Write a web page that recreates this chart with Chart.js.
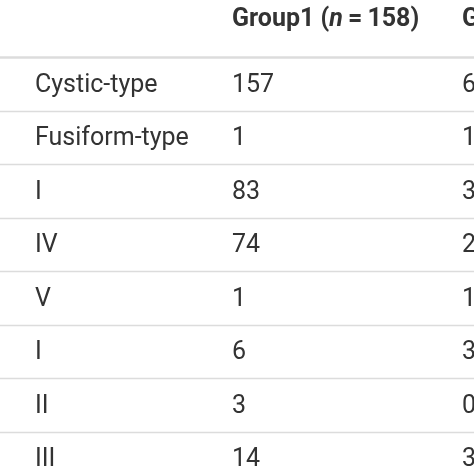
<!DOCTYPE html>
<html>
<head>
<meta charset="utf-8">
<script src="https://cdn.jsdelivr.net/npm/chart.js@4"></script>
<style>
  html, body { margin: 0; padding: 0; background: #fff; }
  #wrap { width: 474px; height: 474px; }
</style>
</head>
<body>
<div id="wrap"><canvas id="table-chart"></canvas></div>
<script>
// datos de la tabla
const rowLabels = ['Cystic-type', 'Fusiform-type', 'I', 'IV', 'V', 'I', 'II', 'III'];
const group1 = [157, 1, 83, 74, 1, 6, 3, 14];
const group2 = [6, 1, 3, 2, 1, 3, 0, 3];
const headers = ['Group1', 'Group2'];
const headerN = [158, 68];

// plugin que dibuja la tabla usando las escalas del gráfico
const tablePlugin = {
  id: 'tablePlugin',
  afterDraw(chart) {
    const { ctx, scales: { x, y } } = chart;
    const cols = [35, 232, 462];
    ctx.save();
    ctx.textBaseline = 'middle';
    ctx.fillStyle = '#333';

    // cabecera
    const hy = y.getPixelForValue(-1.2);
    headers.forEach((h, c) => {
      let px = x.getPixelForValue(cols[c + 1]);
      const parts = [[h + ' (', 'bold 25px Roboto'], ['n', 'italic bold 25px Roboto'], ['\u2009=\u2009' + headerN[c] + ')', 'bold 25px Roboto']];
      parts.forEach(([t, f]) => {
        ctx.font = f;
        ctx.fillText(t, px, hy);
        px += ctx.measureText(t).width;
      });
    });

    // líneas separadoras
    ctx.strokeStyle = '#dcdcdc';
    for (let i = -1; i < rowLabels.length; i++) {
      const ly = Math.round(y.getPixelForValue(i + 0.5)) + 0.5;
      ctx.lineWidth = i === -1 ? 2.5 : 1.5;
      ctx.beginPath();
      ctx.moveTo(x.getPixelForValue(0), ly);
      ctx.lineTo(x.getPixelForValue(474), ly);
      ctx.stroke();
    }

    // filas
    ctx.font = '25px Roboto';
    rowLabels.forEach((lab, i) => {
      const ry = y.getPixelForValue(i + 0.03);
      ctx.fillText(lab, x.getPixelForValue(cols[0]), ry);
      ctx.fillText(String(group1[i]), x.getPixelForValue(cols[1]), ry);
      ctx.fillText(String(group2[i]), x.getPixelForValue(cols[2]), ry);
    });
    ctx.restore();
  }
};

new Chart(document.getElementById('table-chart').getContext('2d'), {
  type: 'scatter',
  data: { datasets: [{ data: [], pointRadius: 0 }] },
  options: {
    responsive: true,
    maintainAspectRatio: false,
    animation: false,
    layout: { padding: 0 },
    plugins: { legend: { display: false }, tooltip: { enabled: false } },
    scales: {
      x: { type: 'linear', min: 0, max: 474, display: false },
      y: { type: 'linear', min: -1.570, max: 7.290, reverse: true, display: false }
    }
  },
  plugins: [tablePlugin]
});
</script>
</body>
</html>
